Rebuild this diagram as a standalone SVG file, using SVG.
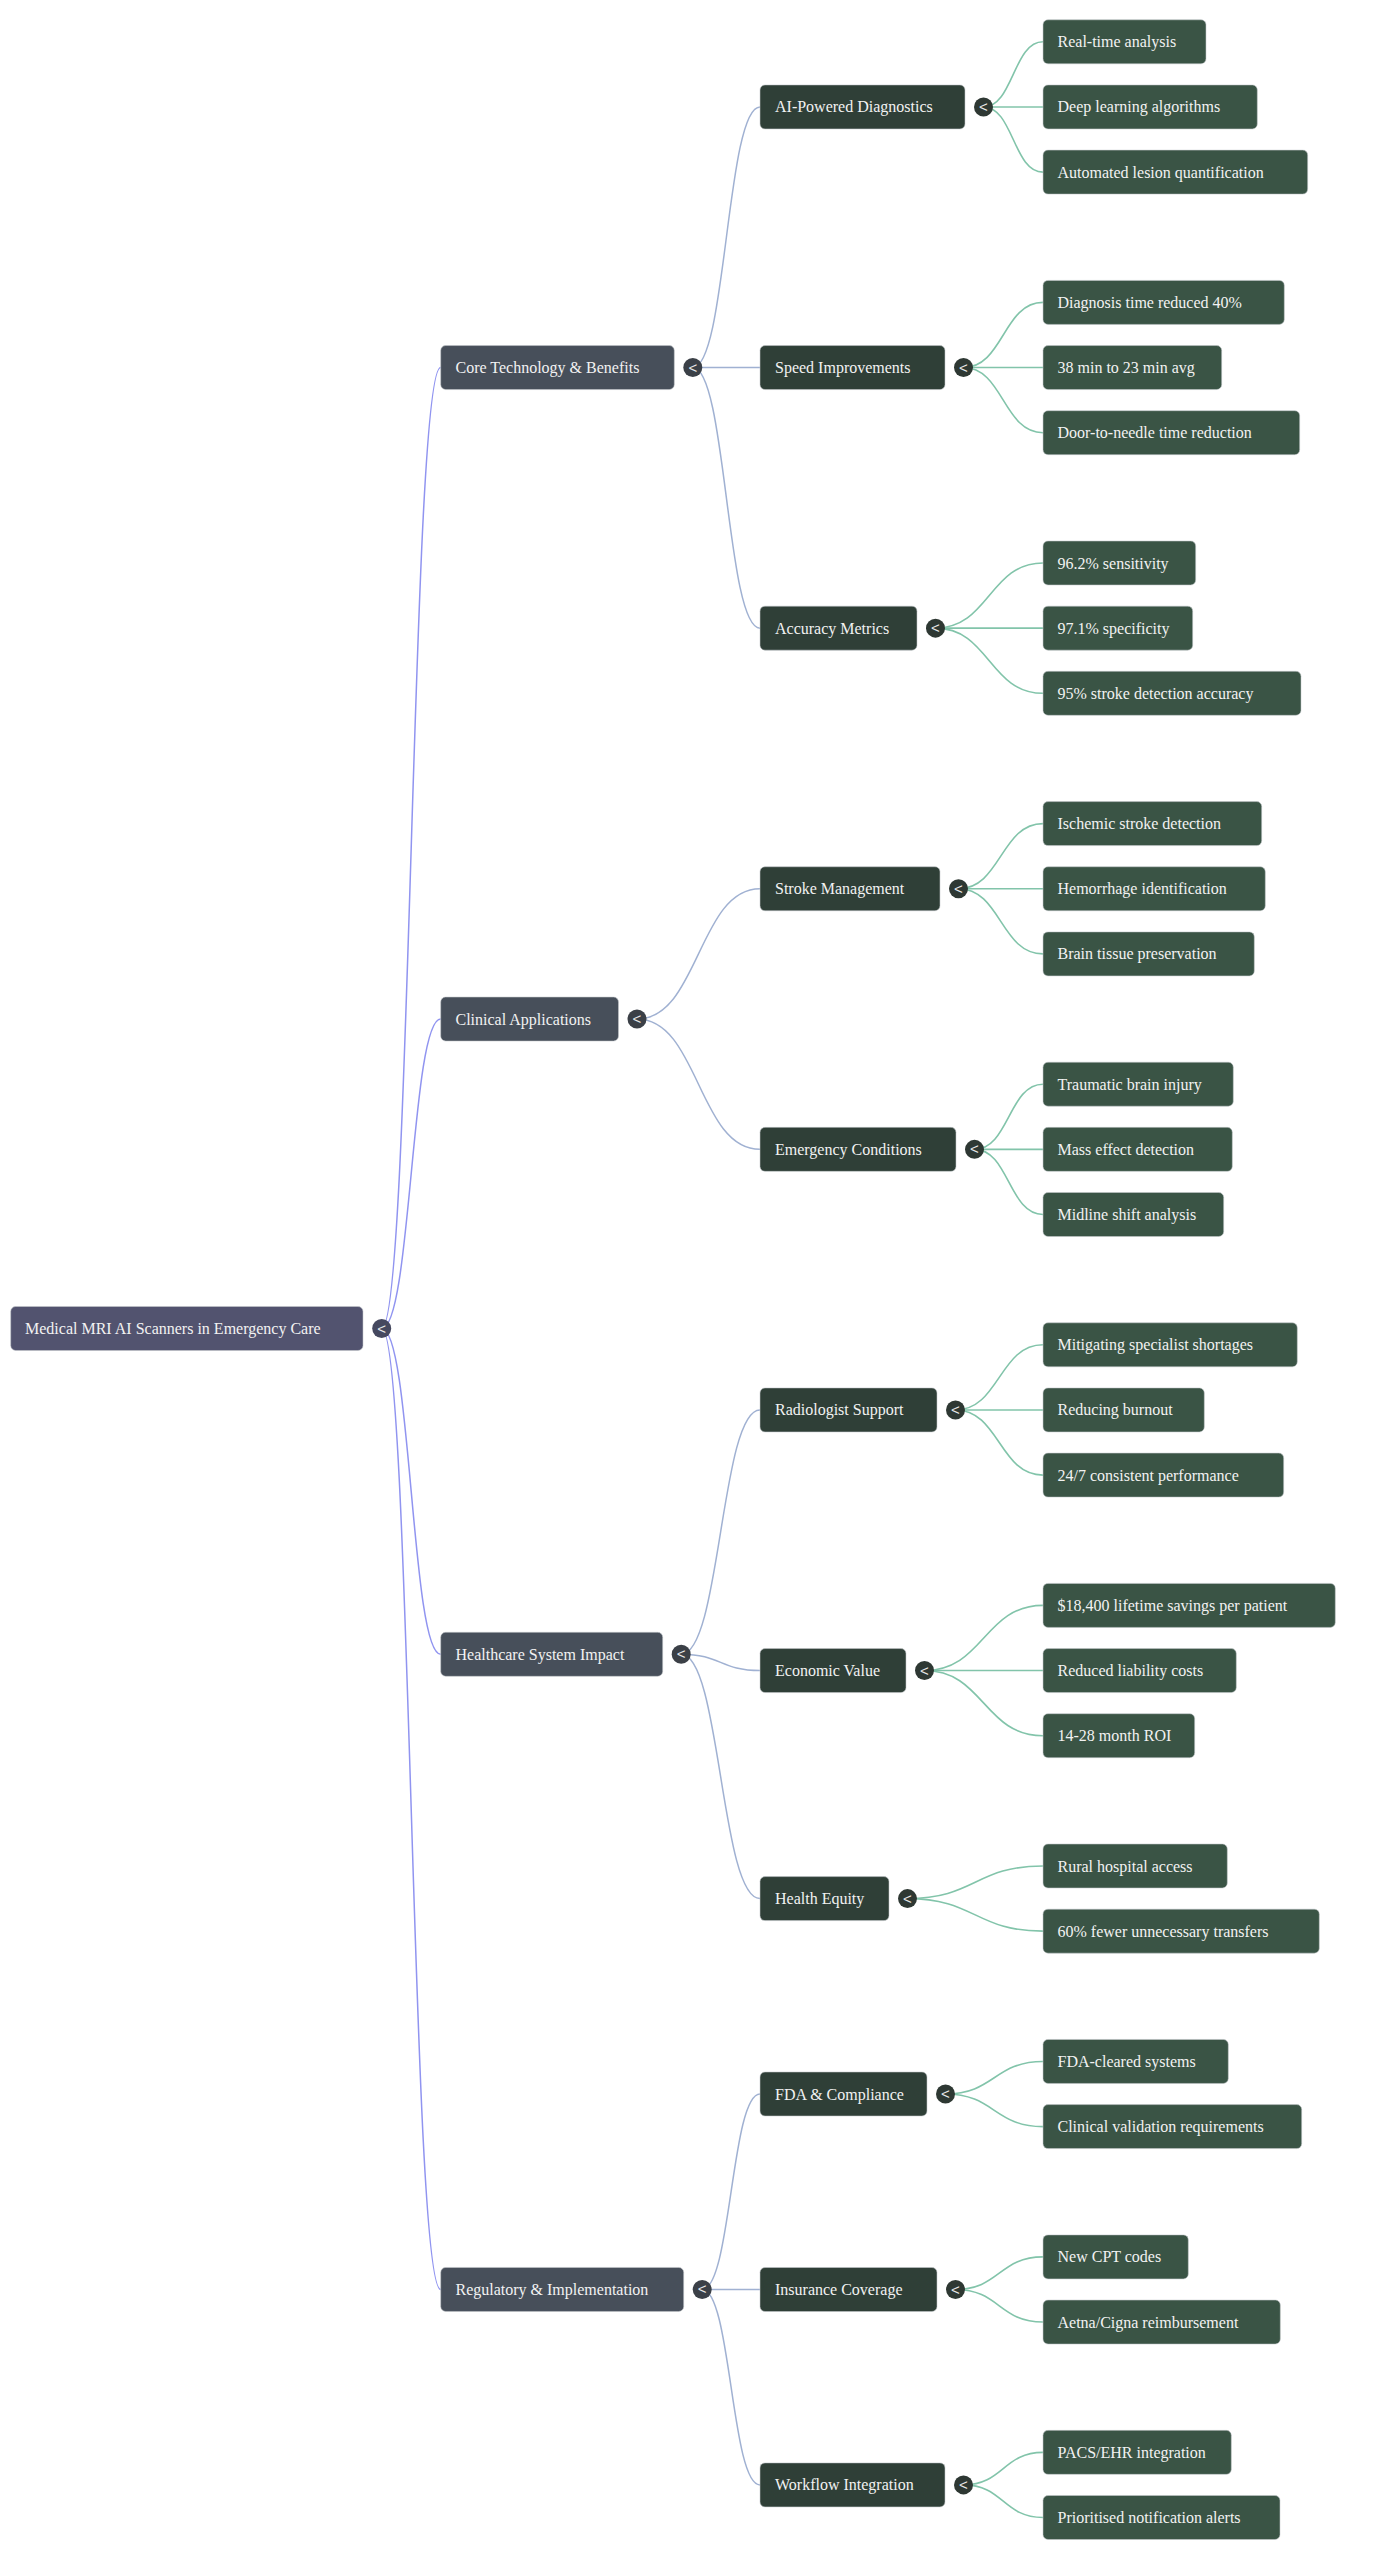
<svg xmlns="http://www.w3.org/2000/svg" width="1374" height="2560" viewBox="0 0 1374 2560">
<style>
.bg{fill:#ffffff}
rect.n{stroke:#c4c8cc;stroke-opacity:0.55;stroke-width:1}
.root rect{fill:#52536f}
.l1 rect{fill:#474f5a}
.l2 rect{fill:#2f3f37}
.leaf rect{fill:#3a5445}
.t{font-family:"Liberation Serif","Times New Roman",serif;font-size:16px;fill:#f2f2f2}
.c0{fill:#45485f}
.c1{fill:#3b4047}
.c2{fill:#2e3833}
.ct{font-family:"Liberation Sans",Arial,sans-serif;font-size:15px;fill:#e8e8e8;text-anchor:middle}
.lk0{fill:none;stroke:#9094f0;stroke-width:1.5}
.lk1{fill:none;stroke:#a0b1d2;stroke-width:1.5}
.lk2{fill:none;stroke:#82c4aa;stroke-width:1.6}
</style>
<rect class="bg" x="0" y="0" width="1374" height="2560"/>
<g id="connectors">
<g class="lk0">
<path d="M381.7,1328.5 C411.2,1328.5 411.2,367.55 440.7,367.55"/>
<path d="M381.7,1328.5 C411.2,1328.5 411.2,1019.05 440.7,1019.05"/>
<path d="M381.7,1328.5 C411.2,1328.5 411.2,1654.3 440.7,1654.3"/>
<path d="M381.7,1328.5 C411.2,1328.5 411.2,2289.45 440.7,2289.45"/>
</g>
<g class="lk1">
<path d="M692.8,367.55 C726.4,367.55 726.4,106.95 760,106.95"/>
<path d="M692.8,367.55 C726.4,367.55 726.4,367.55 760,367.55"/>
<path d="M692.8,367.55 C726.4,367.55 726.4,628.15 760,628.15"/>
<path d="M637,1019.05 C698.5,1019.05 698.5,888.75 760,888.75"/>
<path d="M637,1019.05 C698.5,1019.05 698.5,1149.35 760,1149.35"/>
<path d="M681.2,1654.3 C720.6,1654.3 720.6,1409.95 760,1409.95"/>
<path d="M681.2,1654.3 C720.6,1654.3 720.6,1670.55 760,1670.55"/>
<path d="M681.2,1654.3 C720.6,1654.3 720.6,1898.6 760,1898.6"/>
<path d="M702.2,2289.45 C731.1,2289.45 731.1,2094 760,2094"/>
<path d="M702.2,2289.45 C731.1,2289.45 731.1,2289.5 760,2289.5"/>
<path d="M702.2,2289.45 C731.1,2289.45 731.1,2484.9 760,2484.9"/>
</g>
<g class="lk2">
<path d="M983.5,106.95 C1013.25,106.95 1013.25,41.8 1043,41.8"/>
<path d="M983.5,106.95 C1013.25,106.95 1013.25,106.95 1043,106.95"/>
<path d="M983.5,106.95 C1013.25,106.95 1013.25,172.1 1043,172.1"/>
<path d="M963.5,367.55 C1003.25,367.55 1003.25,302.4 1043,302.4"/>
<path d="M963.5,367.55 C1003.25,367.55 1003.25,367.55 1043,367.55"/>
<path d="M963.5,367.55 C1003.25,367.55 1003.25,432.7 1043,432.7"/>
<path d="M935.5,628.15 C989.25,628.15 989.25,563 1043,563"/>
<path d="M935.5,628.15 C989.25,628.15 989.25,628.15 1043,628.15"/>
<path d="M935.5,628.15 C989.25,628.15 989.25,693.3 1043,693.3"/>
<path d="M958.5,888.75 C1000.75,888.75 1000.75,823.6 1043,823.6"/>
<path d="M958.5,888.75 C1000.75,888.75 1000.75,888.75 1043,888.75"/>
<path d="M958.5,888.75 C1000.75,888.75 1000.75,953.9 1043,953.9"/>
<path d="M974.5,1149.35 C1008.75,1149.35 1008.75,1084.2 1043,1084.2"/>
<path d="M974.5,1149.35 C1008.75,1149.35 1008.75,1149.35 1043,1149.35"/>
<path d="M974.5,1149.35 C1008.75,1149.35 1008.75,1214.5 1043,1214.5"/>
<path d="M955.5,1409.95 C999.25,1409.95 999.25,1344.8 1043,1344.8"/>
<path d="M955.5,1409.95 C999.25,1409.95 999.25,1409.95 1043,1409.95"/>
<path d="M955.5,1409.95 C999.25,1409.95 999.25,1475.1 1043,1475.1"/>
<path d="M924.5,1670.55 C983.75,1670.55 983.75,1605.4 1043,1605.4"/>
<path d="M924.5,1670.55 C983.75,1670.55 983.75,1670.55 1043,1670.55"/>
<path d="M924.5,1670.55 C983.75,1670.55 983.75,1735.7 1043,1735.7"/>
<path d="M907.5,1898.6 C975.25,1898.6 975.25,1866 1043,1866"/>
<path d="M907.5,1898.6 C975.25,1898.6 975.25,1931.15 1043,1931.15"/>
<path d="M945.5,2094 C994.25,2094 994.25,2061.45 1043,2061.45"/>
<path d="M945.5,2094 C994.25,2094 994.25,2126.6 1043,2126.6"/>
<path d="M955.5,2289.5 C999.25,2289.5 999.25,2256.9 1043,2256.9"/>
<path d="M955.5,2289.5 C999.25,2289.5 999.25,2322.05 1043,2322.05"/>
<path d="M963.5,2484.9 C1003.25,2484.9 1003.25,2452.35 1043,2452.35"/>
<path d="M963.5,2484.9 C1003.25,2484.9 1003.25,2517.5 1043,2517.5"/>
</g>
</g>

<g id="root" class="root"><rect class="n" x="10.7" y="1306.5" width="352.3" height="44" rx="5"/><text class="t" x="25" y="1334">Medical MRI AI Scanners in Emergency Care</text><circle class="c0" cx="381.7" cy="1328.5" r="9.5"/><text class="ct" x="381.7" y="1333.5">&lt;</text></g>

<g id="core" class="l1"><rect class="n" x="440.7" y="345.55" width="233.6" height="44" rx="5"/><text class="t" x="455.5" y="373.05">Core Technology &amp; Benefits</text><circle class="c1" cx="692.8" cy="367.55" r="9.5"/><text class="ct" x="692.8" y="372.55">&lt;</text></g>
<g id="clinical" class="l1"><rect class="n" x="440.7" y="997.05" width="177.8" height="44" rx="5"/><text class="t" x="455.5" y="1024.55">Clinical Applications</text><circle class="c1" cx="637" cy="1019.05" r="9.5"/><text class="ct" x="637" y="1024.05">&lt;</text></g>
<g id="healthcare" class="l1"><rect class="n" x="440.7" y="1632.3" width="222" height="44" rx="5"/><text class="t" x="455.5" y="1659.8">Healthcare System Impact</text><circle class="c1" cx="681.2" cy="1654.3" r="9.5"/><text class="ct" x="681.2" y="1659.3">&lt;</text></g>
<g id="regulatory" class="l1"><rect class="n" x="440.7" y="2267.45" width="243" height="44" rx="5"/><text class="t" x="455.5" y="2294.95">Regulatory &amp; Implementation</text><circle class="c1" cx="702.2" cy="2289.45" r="9.5"/><text class="ct" x="702.2" y="2294.45">&lt;</text></g>

<g id="ai" class="l2"><rect class="n" x="760" y="84.95" width="205" height="44" rx="5"/><text class="t" x="775" y="112.45">AI-Powered Diagnostics</text><circle class="c2" cx="983.5" cy="106.95" r="9.5"/><text class="ct" x="983.5" y="111.95">&lt;</text></g>
<g id="speed" class="l2"><rect class="n" x="760" y="345.55" width="185" height="44" rx="5"/><text class="t" x="775" y="373.05">Speed Improvements</text><circle class="c2" cx="963.5" cy="367.55" r="9.5"/><text class="ct" x="963.5" y="372.55">&lt;</text></g>
<g id="accuracy" class="l2"><rect class="n" x="760" y="606.15" width="157" height="44" rx="5"/><text class="t" x="775" y="633.65">Accuracy Metrics</text><circle class="c2" cx="935.5" cy="628.15" r="9.5"/><text class="ct" x="935.5" y="633.15">&lt;</text></g>
<g id="stroke" class="l2"><rect class="n" x="760" y="866.75" width="180" height="44" rx="5"/><text class="t" x="775" y="894.25">Stroke Management</text><circle class="c2" cx="958.5" cy="888.75" r="9.5"/><text class="ct" x="958.5" y="893.75">&lt;</text></g>
<g id="emergency" class="l2"><rect class="n" x="760" y="1127.35" width="196" height="44" rx="5"/><text class="t" x="775" y="1154.85">Emergency Conditions</text><circle class="c2" cx="974.5" cy="1149.35" r="9.5"/><text class="ct" x="974.5" y="1154.35">&lt;</text></g>
<g id="radiologist" class="l2"><rect class="n" x="760" y="1387.95" width="177" height="44" rx="5"/><text class="t" x="775" y="1415.45">Radiologist Support</text><circle class="c2" cx="955.5" cy="1409.95" r="9.5"/><text class="ct" x="955.5" y="1414.95">&lt;</text></g>
<g id="economic" class="l2"><rect class="n" x="760" y="1648.55" width="146" height="44" rx="5"/><text class="t" x="775" y="1676.05">Economic Value</text><circle class="c2" cx="924.5" cy="1670.55" r="9.5"/><text class="ct" x="924.5" y="1675.55">&lt;</text></g>
<g id="equity" class="l2"><rect class="n" x="760" y="1876.6" width="129" height="44" rx="5"/><text class="t" x="775" y="1904.1">Health Equity</text><circle class="c2" cx="907.5" cy="1898.6" r="9.5"/><text class="ct" x="907.5" y="1903.6">&lt;</text></g>
<g id="fda" class="l2"><rect class="n" x="760" y="2072" width="167" height="44" rx="5"/><text class="t" x="775" y="2099.5">FDA &amp; Compliance</text><circle class="c2" cx="945.5" cy="2094" r="9.5"/><text class="ct" x="945.5" y="2099">&lt;</text></g>
<g id="insurance" class="l2"><rect class="n" x="760" y="2267.5" width="177" height="44" rx="5"/><text class="t" x="775" y="2295">Insurance Coverage</text><circle class="c2" cx="955.5" cy="2289.5" r="9.5"/><text class="ct" x="955.5" y="2294.5">&lt;</text></g>
<g id="workflow" class="l2"><rect class="n" x="760" y="2462.9" width="185" height="44" rx="5"/><text class="t" x="775" y="2490.4">Workflow Integration</text><circle class="c2" cx="963.5" cy="2484.9" r="9.5"/><text class="ct" x="963.5" y="2489.9">&lt;</text></g>

<g id="leaf-realtime" class="leaf"><rect class="n" x="1043" y="19.8" width="163" height="44" rx="5"/><text class="t" x="1057.5" y="47.3">Real-time analysis</text></g>
<g id="leaf-deep" class="leaf"><rect class="n" x="1043" y="84.95" width="214.3" height="44" rx="5"/><text class="t" x="1057.5" y="112.45">Deep learning algorithms</text></g>
<g id="leaf-lesion" class="leaf"><rect class="n" x="1043" y="150.1" width="264.7" height="44" rx="5"/><text class="t" x="1057.5" y="177.6">Automated lesion quantification</text></g>
<g id="leaf-diag" class="leaf"><rect class="n" x="1043" y="280.4" width="241.3" height="44" rx="5"/><text class="t" x="1057.5" y="307.9">Diagnosis time reduced 40%</text></g>
<g id="leaf-38min" class="leaf"><rect class="n" x="1043" y="345.55" width="178.7" height="44" rx="5"/><text class="t" x="1057.5" y="373.05">38 min to 23 min avg</text></g>
<g id="leaf-door" class="leaf"><rect class="n" x="1043" y="410.7" width="256.7" height="44" rx="5"/><text class="t" x="1057.5" y="438.2">Door-to-needle time reduction</text></g>
<g id="leaf-sens" class="leaf"><rect class="n" x="1043" y="541" width="152.7" height="44" rx="5"/><text class="t" x="1057.5" y="568.5">96.2% sensitivity</text></g>
<g id="leaf-spec" class="leaf"><rect class="n" x="1043" y="606.15" width="149.7" height="44" rx="5"/><text class="t" x="1057.5" y="633.65">97.1% specificity</text></g>
<g id="leaf-95" class="leaf"><rect class="n" x="1043" y="671.3" width="258" height="44" rx="5"/><text class="t" x="1057.5" y="698.8">95% stroke detection accuracy</text></g>
<g id="leaf-isch" class="leaf"><rect class="n" x="1043" y="801.6" width="218.7" height="44" rx="5"/><text class="t" x="1057.5" y="829.1">Ischemic stroke detection</text></g>
<g id="leaf-hem" class="leaf"><rect class="n" x="1043" y="866.75" width="222.3" height="44" rx="5"/><text class="t" x="1057.5" y="894.25">Hemorrhage identification</text></g>
<g id="leaf-brain" class="leaf"><rect class="n" x="1043" y="931.9" width="211.3" height="44" rx="5"/><text class="t" x="1057.5" y="959.4">Brain tissue preservation</text></g>
<g id="leaf-tbi" class="leaf"><rect class="n" x="1043" y="1062.2" width="190.3" height="44" rx="5"/><text class="t" x="1057.5" y="1089.7">Traumatic brain injury</text></g>
<g id="leaf-mass" class="leaf"><rect class="n" x="1043" y="1127.35" width="189.3" height="44" rx="5"/><text class="t" x="1057.5" y="1154.85">Mass effect detection</text></g>
<g id="leaf-midline" class="leaf"><rect class="n" x="1043" y="1192.5" width="180.7" height="44" rx="5"/><text class="t" x="1057.5" y="1220">Midline shift analysis</text></g>
<g id="leaf-mitig" class="leaf"><rect class="n" x="1043" y="1322.8" width="254.3" height="44" rx="5"/><text class="t" x="1057.5" y="1350.3">Mitigating specialist shortages</text></g>
<g id="leaf-burnout" class="leaf"><rect class="n" x="1043" y="1387.95" width="161.3" height="44" rx="5"/><text class="t" x="1057.5" y="1415.45">Reducing burnout</text></g>
<g id="leaf-247" class="leaf"><rect class="n" x="1043" y="1453.1" width="240.7" height="44" rx="5"/><text class="t" x="1057.5" y="1480.6">24/7 consistent performance</text></g>
<g id="leaf-savings" class="leaf"><rect class="n" x="1043" y="1583.4" width="292.3" height="44" rx="5"/><text class="t" x="1057.5" y="1610.9">$18,400 lifetime savings per patient</text></g>
<g id="leaf-liab" class="leaf"><rect class="n" x="1043" y="1648.55" width="193.3" height="44" rx="5"/><text class="t" x="1057.5" y="1676.05">Reduced liability costs</text></g>
<g id="leaf-roi" class="leaf"><rect class="n" x="1043" y="1713.7" width="151.7" height="44" rx="5"/><text class="t" x="1057.5" y="1741.2">14-28 month ROI</text></g>
<g id="leaf-rural" class="leaf"><rect class="n" x="1043" y="1844" width="184.3" height="44" rx="5"/><text class="t" x="1057.5" y="1871.5">Rural hospital access</text></g>
<g id="leaf-60" class="leaf"><rect class="n" x="1043" y="1909.15" width="276.3" height="44" rx="5"/><text class="t" x="1057.5" y="1936.65">60% fewer unnecessary transfers</text></g>
<g id="leaf-fdacl" class="leaf"><rect class="n" x="1043" y="2039.45" width="185.3" height="44" rx="5"/><text class="t" x="1057.5" y="2066.95">FDA-cleared systems</text></g>
<g id="leaf-valid" class="leaf"><rect class="n" x="1043" y="2104.6" width="258.7" height="44" rx="5"/><text class="t" x="1057.5" y="2132.1">Clinical validation requirements</text></g>
<g id="leaf-cpt" class="leaf"><rect class="n" x="1043" y="2234.9" width="145.3" height="44" rx="5"/><text class="t" x="1057.5" y="2262.4">New CPT codes</text></g>
<g id="leaf-aetna" class="leaf"><rect class="n" x="1043" y="2300.05" width="237.3" height="44" rx="5"/><text class="t" x="1057.5" y="2327.55">Aetna/Cigna reimbursement</text></g>
<g id="leaf-pacs" class="leaf"><rect class="n" x="1043" y="2430.35" width="188.3" height="44" rx="5"/><text class="t" x="1057.5" y="2457.85">PACS/EHR integration</text></g>
<g id="leaf-alerts" class="leaf"><rect class="n" x="1043" y="2495.5" width="237" height="44" rx="5"/><text class="t" x="1057.5" y="2523">Prioritised notification alerts</text></g>
</svg>
